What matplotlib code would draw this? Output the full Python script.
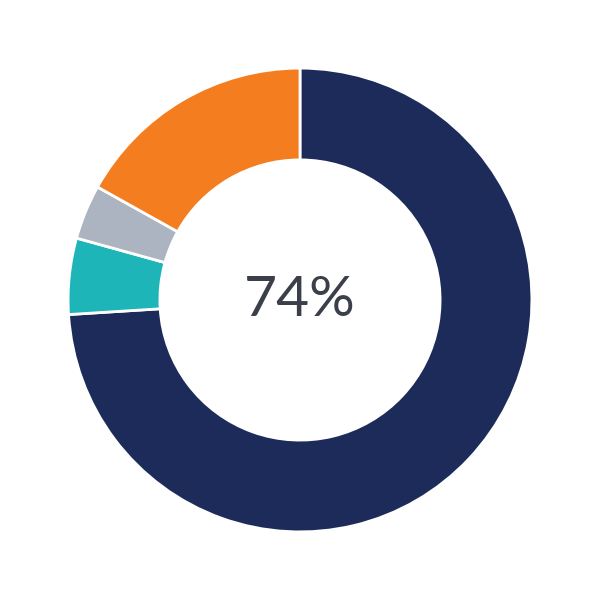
import matplotlib.pyplot as plt

labels = ["Main", "Teal", "Gray", "Orange"]
values = [74.0, 5.3, 3.8, 16.9]
colors = ["#1c2b5a", "#1db5b8", "#acb4c1", "#f47d20"]
center_text = "74%"

fig = plt.figure(figsize=(6, 6), dpi=100)
ax = fig.add_axes([0, 0, 1, 1])
ax.pie(values, colors=colors, startangle=90, counterclock=False,
       radius=0.773,
       wedgeprops=dict(width=0.306, edgecolor="white", linewidth=2))
ax.text(0, 0, center_text, ha="center", va="center", fontsize=41,
        color="#3a3f4a", family=["Lato", "DejaVu Sans"], fontweight="normal")
ax.set_xlim(-1, 1)
ax.set_ylim(-1, 1)
ax.set_aspect("equal")
ax.axis("off")
fig.savefig("out.png", dpi=100, facecolor="white")
